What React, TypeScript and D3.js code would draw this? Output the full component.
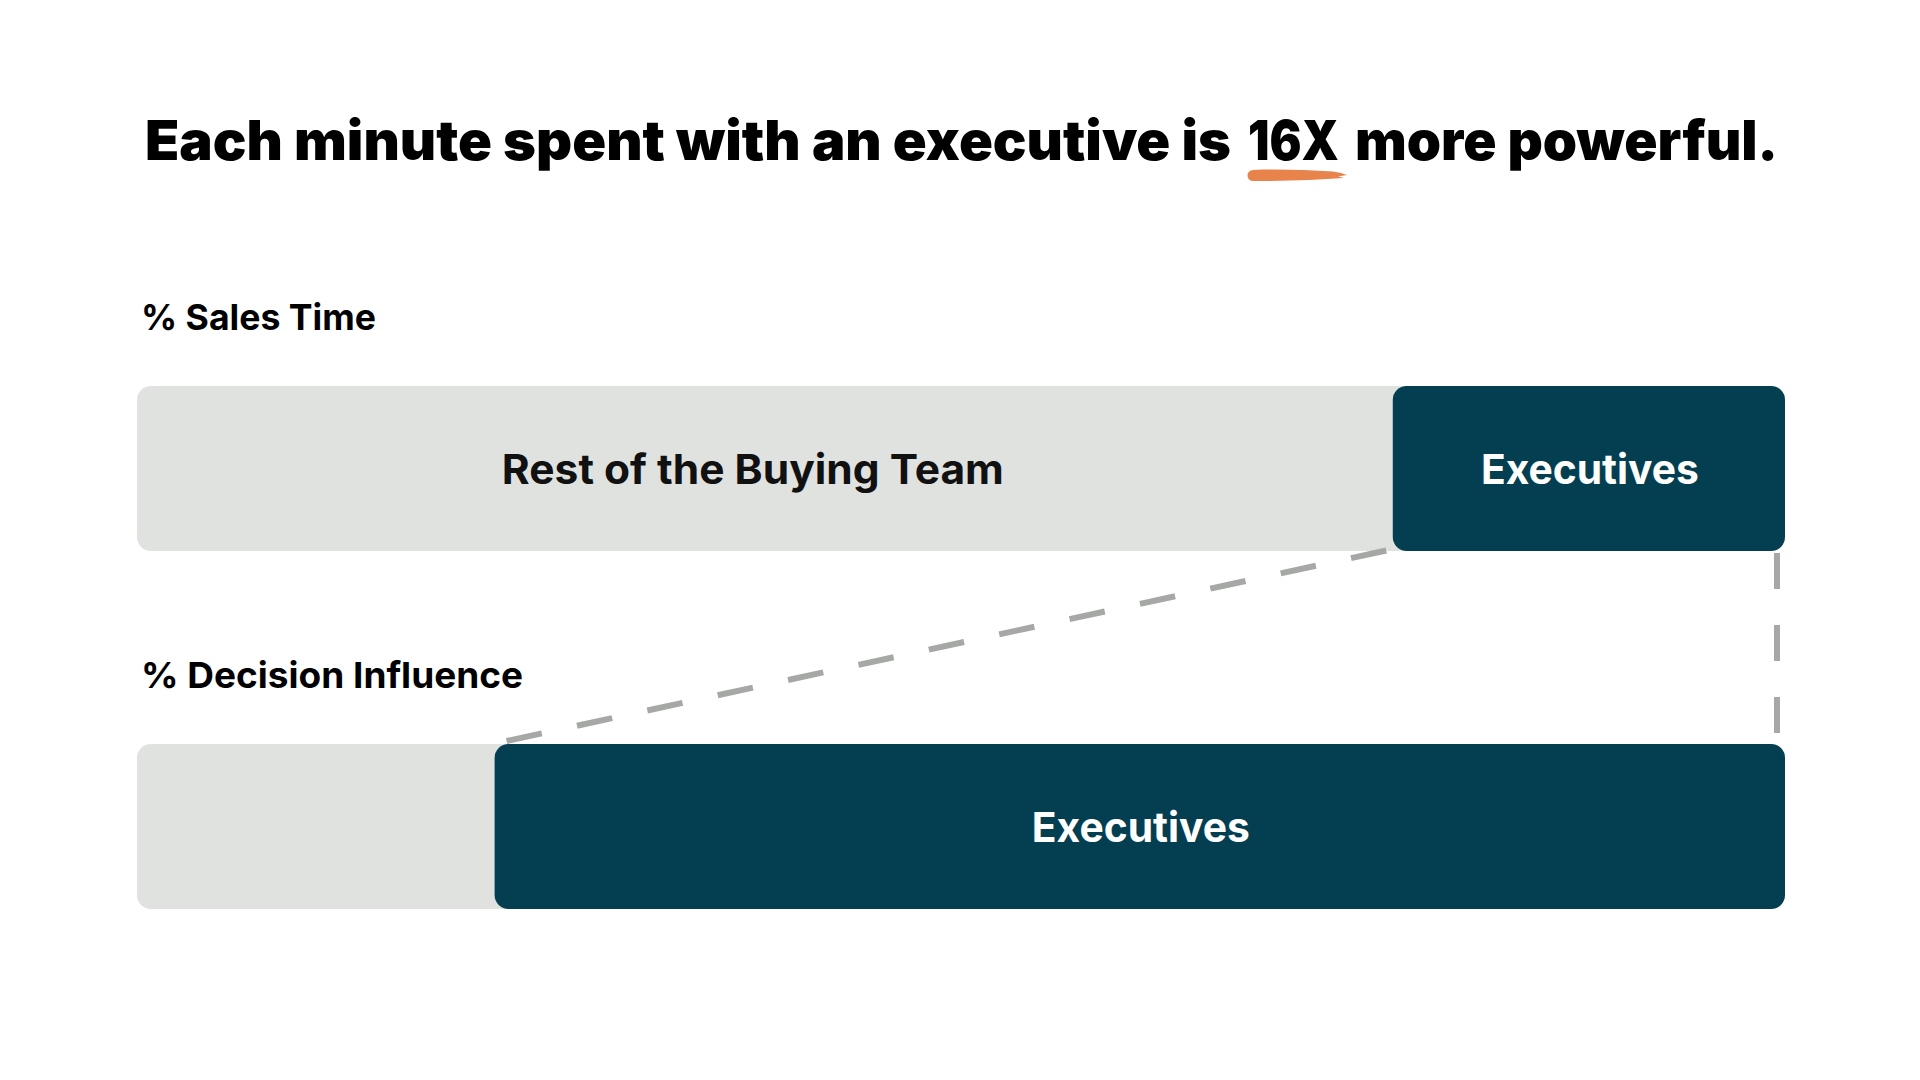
import React, { useEffect, useRef } from "react";
import * as d3 from "d3";

// ---- data ----
const titleParts = ["Each minute spent with an executive is", "16X", "more powerful."];
const highlightIndex = 1;
const rowLabels = ["% Sales Time", "% Decision Influence"];
const segmentNames = ["Rest of the Buying Team", "Executives"];
const salesTime = [76.2, 23.8]; // % of sales time: rest, executives
const decisionInfluence = [21.7, 78.3]; // % of decision influence: rest, executives
const segmentLabelShown = [
  [true, true],
  [false, true],
];

const W = 1920;
const H = 1080;
const FONT = "Inter, 'Open Sans', 'DejaVu Sans', sans-serif";
const GREY = "#e0e2e0";
const TEAL = "#033f51";
const DASH = "#a5a8a5";
const ORANGE = "#e8834c";

// title layout (pixel spans of each part)
const titleSpans = [
  [145, 1231],
  [1248, 1339],
  [1355, 1778],
];

export default function App() {
  const ref = useRef<SVGSVGElement | null>(null);

  useEffect(() => {
    const svg = d3.select(ref.current);
    svg.selectAll("*").remove();

    const x = d3.scaleLinear().domain([0, 100]).range([137, 1785]);
    const y = d3.scalePoint<string>().domain(rowLabels).range([386, 744]);
    const barH = 165;
    const r = 14;
    const series = [salesTime, decisionInfluence];

    // title
    titleParts.forEach((t, i) => {
      svg
        .append("text")
        .attr("x", titleSpans[i][0])
        .attr("y", 160)
        .attr("font-family", FONT)
        .attr("font-weight", 900)
        .attr("font-size", 55)
        .attr("fill", "#000")
        .attr("textLength", titleSpans[i][1] - titleSpans[i][0])
        .attr("lengthAdjust", "spacingAndGlyphs")
        .text(t);
    });

    // underline brush under highlight
    const ux0 = titleSpans[highlightIndex][0] - 1;
    const ux1 = titleSpans[highlightIndex][1] + 8;
    const yc = 175.5;
    const brush = `M${ux0 + 6},${yc - 5.5}
      C${ux0 + 30},${yc - 6.5} ${ux1 - 40},${yc - 5.5} ${ux1 - 14},${yc - 4}
      L${ux1 - 6},${yc - 2.5} L${ux1},${yc - 0.5} L${ux1 - 9},${yc + 1} L${ux1 - 3},${yc + 2.5}
      C${ux1 - 30},${yc + 4.5} ${ux0 + 40},${yc + 5.5} ${ux0 + 6},${yc + 5.5}
      A5.5,5.5 0 0 1 ${ux0 + 6},${yc - 5.5} Z`;
    svg.append("path").attr("d", brush).attr("fill", ORANGE);

    // row labels
    svg
      .selectAll("text.rowlabel")
      .data(rowLabels)
      .join("text")
      .attr("class", "rowlabel")
      .attr("x", 141)
      .attr("y", (d) => (y(d) as number) - 56)
      .attr("font-family", FONT)
      .attr("font-weight", 700)
      .attr("font-size", 36)
      .attr("fill", "#000")
      .attr("textLength", (d, i) => (i === 0 ? 235 : 382))
      .attr("lengthAdjust", "spacingAndGlyphs")
      .text((d) => d);

    // bars
    rowLabels.forEach((row, ri) => {
      const vals = series[ri];
      const top = y(row) as number;
      const restEnd = vals[0];
      svg
        .append("rect")
        .attr("x", x(0))
        .attr("y", top)
        .attr("width", x(100) - x(0))
        .attr("height", barH)
        .attr("rx", r)
        .attr("fill", GREY);
      svg
        .append("rect")
        .attr("x", x(restEnd))
        .attr("y", top)
        .attr("width", x(100) - x(restEnd))
        .attr("height", barH)
        .attr("rx", r)
        .attr("fill", TEAL);

      const segs = [
        { name: segmentNames[0], x0: x(0), x1: x(restEnd), color: "#111", w: 502, dx: -12 },
        { name: segmentNames[1], x0: x(restEnd), x1: x(100), color: "#fff", w: 218, dx: 1 },
      ];
      segs.forEach((s, si) => {
        if (!segmentLabelShown[ri][si]) return;
        svg
          .append("text")
          .attr("x", (s.x0 + s.x1) / 2 + s.dx)
          .attr("y", top + barH / 2 + 15)
          .attr("text-anchor", "middle")
          .attr("font-family", FONT)
          .attr("font-weight", 700)
          .attr("font-size", 41)
          .attr("fill", s.color)
          .attr("textLength", s.w)
          .attr("lengthAdjust", "spacingAndGlyphs")
          .text(s.name);
      });
    });

    // connector dashed lines
    const topBottom = (y(rowLabels[0]) as number) + barH;
    const botTop = y(rowLabels[1]) as number;
    svg
      .append("line")
      .attr("x1", x(decisionInfluence[0]) + 12)
      .attr("y1", botTop - 3)
      .attr("x2", x(salesTime[0]) - 4)
      .attr("y2", topBottom - 1)
      .attr("stroke", DASH)
      .attr("stroke-width", 6)
      .attr("stroke-dasharray", "36 36");
    svg
      .append("line")
      .attr("x1", x(100) - 8)
      .attr("y1", topBottom + 2)
      .attr("x2", x(100) - 8)
      .attr("y2", botTop - 4)
      .attr("stroke", DASH)
      .attr("stroke-width", 6)
      .attr("stroke-dasharray", "36 36");
  }, []);

  return (
    <svg
      ref={ref}
      width={W}
      height={H}
      viewBox={`0 0 ${W} ${H}`}
      style={{ position: "absolute", left: 0, top: 0, background: "#fff" }}
    />
  );
}
